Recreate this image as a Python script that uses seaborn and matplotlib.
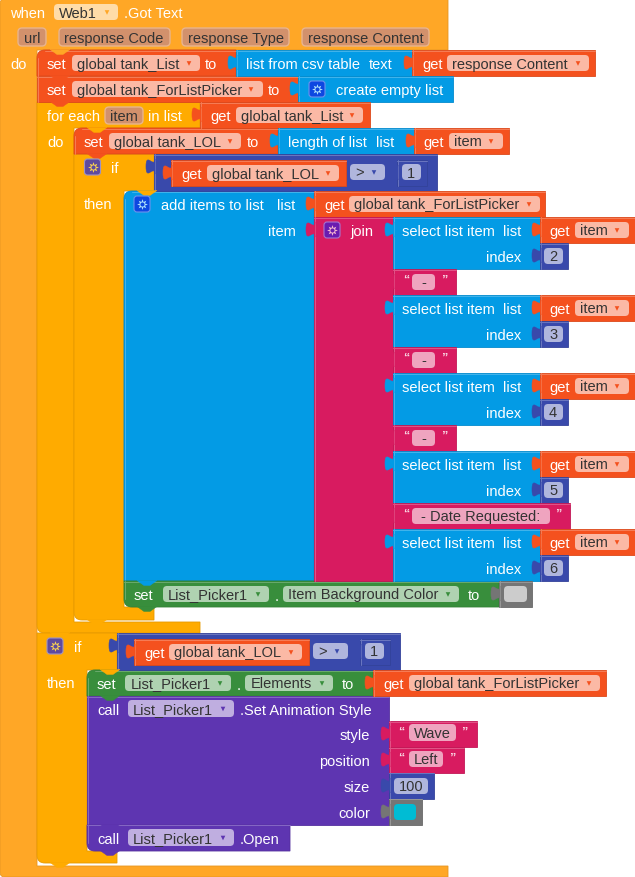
import matplotlib
matplotlib.use("Agg")
import matplotlib.pyplot as plt
import matplotlib.colors as mcolors
from matplotlib.patches import PathPatch, FancyBboxPatch
from matplotlib.path import Path
import seaborn as sns
import pandas as pd

sns.set_theme(style="white")
plt.rcParams["font.family"] = ["Liberation Sans", "DejaVu Sans"]

# ── Palette ──────────────────────────────────────────────────────────────────
EVENT, CTRL, VAR, LIST_C = "#FFA726", "#FFAB00", "#F4511E", "#039BE5"
MATH, TEXT_C, PROP, PROC, GREY = "#3949AB", "#D81B60", "#388E3C", "#5E35B1", "#757575"
KIND = {"var": VAR, "list": LIST_C, "math": MATH, "text": TEXT_C,
        "prop": PROP, "proc": PROC, "grey": GREY}

# ── Blocks (x0, y0, x1, y1, kind, round top-left, round bottom-left) ─────────
STACK_BLOCKS = [
    (37, 51, 236, 77, "var", 1, 0),
    (37, 77, 298, 103, "var", 0, 0),
    (74, 129, 278, 155, "var", 1, 0),
    (124, 192, 314, 582, "list", 1, 0),
    (124, 582, 499, 608, "prop", 0, 1),
    (87, 671, 373, 697, "prop", 1, 0),
    (87, 697, 389, 826, "proc", 0, 0),
    (87, 826, 290, 852, "proc", 0, 1),
]
VALUE_BLOCKS = [
    (236, 51, 412, 77, "list"), (412, 51, 595, 77, "var"),
    (298, 77, 453, 103, "list"), (200, 103, 370, 129, "var"),
    (278, 129, 414, 155, "list"), (414, 129, 509, 155, "var"),
    (154, 155, 437, 192, "math"), (171, 161, 346, 187, "var"), (397, 161, 427, 187, "math"),
    (314, 192, 545, 218, "var"), (314, 218, 393, 582, "text"),
    (393, 218, 540, 270, "list"), (540, 218, 635, 244, "var"), (540, 244, 568, 270, "math"),
    (393, 270, 456, 296, "text"),
    (393, 296, 540, 348, "list"), (540, 296, 635, 322, "var"), (540, 322, 568, 348, "math"),
    (393, 348, 456, 374, "text"),
    (393, 374, 540, 426, "list"), (540, 374, 635, 400, "var"), (540, 400, 568, 426, "math"),
    (393, 426, 456, 452, "text"),
    (393, 452, 540, 504, "list"), (540, 452, 635, 478, "var"), (540, 478, 568, 504, "math"),
    (393, 504, 570, 530, "text"),
    (393, 530, 540, 582, "list"), (540, 530, 635, 556, "var"), (540, 556, 568, 582, "math"),
    (499, 582, 532, 608, "grey"),
    (117, 634, 400, 671, "math"), (134, 640, 309, 666, "var"), (360, 640, 390, 666, "math"),
    (373, 671, 606, 697, "var"),
    (389, 722, 477, 748, "text"), (389, 748, 464, 774, "text"),
    (389, 774, 434, 800, "math"), (389, 800, 422, 826, "grey"),
]

# C shaped blocks: x0, y0, x_head, y_head, x_arm, y_low, x_low, y1
C_BLOCKS = [
    (0, 0, 448, 51, 37, 867, 448, 878, EVENT),
    (37, 103, 200, 129, 74, 623, 200, 634, CTRL),
    (74, 155, 154, 192, 124, 608, 154, 621, CTRL),
    (37, 634, 117, 671, 87, 852, 117, 864, CTRL),
]
# connector chevrons: x, y, colour
NOTCHES = [
    (37, 51, EVENT), (37, 77, VAR), (37, 103, VAR), (74, 129, CTRL), (74, 155, VAR),
    (124, 192, CTRL), (124, 582, LIST_C), (74, 621, CTRL), (37, 634, CTRL),
    (87, 671, CTRL), (87, 697, PROP), (87, 826, PROC), (87, 852, PROC), (124, 608, PROP),
    (37, 864, CTRL),
]

# ── Field pills (x0, y0, x1, y1, colour of parent, label, text x, arrow x) ───
PILLS = [
    (54, 5, 118, 21, EVENT, "Web1", 59, 107),
    (72, 56, 200, 72, VAR, "global tank_List", 77, 189),
    (447, 56, 589, 72, VAR, "response Content", 452, 578),
    (72, 82, 263, 98, VAR, "global tank_ForListPicker", 77, 251),
    (236, 108, 363, 124, VAR, "global tank_List", 241, 352),
    (109, 134, 241, 150, VAR, "global tank_LOL", 114, 230),
    (449, 134, 503, 150, VAR, "item", 454, 491),
    (207, 166, 339, 182, VAR, "global tank_LOL", 212, 328),
    (350, 165, 385, 181, MATH, ">", 355, 374),
    (349, 197, 540, 213, VAR, "global tank_ForListPicker", 354, 529),
    (575, 223, 629, 239, VAR, "item", 580, 617),
    (575, 301, 629, 317, VAR, "item", 580, 617),
    (575, 379, 629, 395, VAR, "item", 580, 617),
    (575, 457, 629, 473, VAR, "item", 580, 617),
    (575, 535, 629, 551, VAR, "item", 580, 617),
    (163, 587, 269, 603, PROP, "List_Picker1", 168, 258),
    (283, 587, 459, 603, PROP, "Item Background Color", 288, 448),
    (169, 645, 302, 661, VAR, "global tank_LOL", 174, 291),
    (313, 644, 348, 660, MATH, ">", 318, 337),
    (125, 676, 231, 692, PROP, "List_Picker1", 131, 220),
    (245, 676, 333, 692, PROP, "Elements", 251, 322),
    (409, 676, 600, 692, VAR, "global tank_ForListPicker", 414, 589),
    (128, 701, 234, 718, PROC, "List_Picker1", 133, 223),
    (128, 830, 234, 847, PROC, "List_Picker1", 133, 223),
    # plain value pills, no dropdown arrow
    (402, 165, 421, 181, MATH, "1", 407, None),
    (544, 249, 563, 265, MATH, "2", 549, None),
    (544, 327, 563, 343, MATH, "3", 549, None),
    (544, 405, 563, 421, MATH, "4", 549, None),
    (544, 483, 563, 499, MATH, "5", 549, None),
    (544, 561, 563, 577, MATH, "6", 549, None),
    (365, 644, 384, 660, MATH, "1", 370, None),
    (394, 779, 428, 795, MATH, "100", 399, None),
    (412, 275, 435, 291, TEXT_C, "-", 421, None),
    (412, 353, 435, 369, TEXT_C, "-", 421, None),
    (412, 431, 435, 447, TEXT_C, "-", 421, None),
    (412, 509, 550, 525, TEXT_C, "- Date Requested:", 421, None),
    (409, 725, 456, 742, TEXT_C, "Wave", 414, None),
    (409, 752, 443, 768, TEXT_C, "Left", 414, None),
]
PARAMS = [
    (18, 29, 46, 47, "url", 24),
    (59, 29, 170, 47, "response Code", 64),
    (182, 29, 289, 47, "response Type", 188),
    (302, 29, 429, 47, "response Content", 308),
]
LOCAL_VAR = (105, 108, 143, 125, "item", 110)
SWATCHES = [(504, 587, 527, 603, "#CCCCCC"), (394, 805, 416, 821, "#00BCD4")]

# ── White labels (x, baseline, text) ─────────────────────────────────────────
LABELS = [
    (10, 18, "when"), (124, 18, ".Got Text"), (10, 69, "do"), (47, 69, "set"), (205, 69, "to"),
    (246, 69, "list from csv table"), (369, 69, "text"), (422, 69, "get"),
    (47, 95, "set"), (268, 95, "to"), (336, 95, "create empty list"),
    (47, 121, "for each"), (148, 121, "in list"), (210, 121, "get"),
    (47, 147, "do"), (84, 147, "set"), (247, 147, "to"), (288, 147, "length of list"),
    (376, 147, "list"), (423, 147, "get"),
    (111, 173, "if"), (181, 179, "get"), (84, 209, "then"),
    (161, 210, "add items to list"), (277, 210, "list"), (324, 210, "get"),
    (350, 236, "join"),
    (134, 600, "set"), (275, 601, "."), (468, 600, "to"),
    (74, 652, "if"), (144, 658, "get"), (47, 688, "then"),
    (97, 689, "set"), (237, 690, "."), (342, 689, "to"), (383, 689, "get"),
    (97, 715, "call"), (240, 715, ".Set Animation Style"),
    (97, 844, "call"), (240, 844, ".Open"),
]
LABELS_RIGHT = [
    (296, 236, "item"), (370, 740, "style"), (370, 766, "position"),
    (370, 792, "size"), (370, 818, "color"),
]
SELECT_ROWS = [218, 296, 374, 452, 530]
QUOTES = [
    (403, 441, 270), (403, 441, 348), (403, 441, 426), (403, 555, 504),
    (398, 461, 722), (398, 449, 748),
]
# mutator icons: x centre, y centre, tile colour, gear colour
GEARS = [
    (92.5, 168, "#5E4A9E", "#FFD54F"), (142, 205, "#0D47E1", "#B3E5FC"),
    (332, 231, "#6A1BB0", "#F8BBD0"), (317, 90, "#0D47E1", "#B3E5FC"),
    (55, 647, "#5E4A9E", "#FFD54F"),
]


def mix(color, other, t):
    a, b = mcolors.to_rgb(color), mcolors.to_rgb(other)
    return tuple(a[i] * (1 - t) + b[i] * t for i in range(3))


def rounded_poly(ax, pts, color, radii, z=1):
    """closed polygon, radii[i] rounds corner i with a quadratic curve"""
    verts, codes = [], []
    n = len(pts)
    for i, p in enumerate(pts):
        r = radii[i]
        prev, nxt = pts[i - 1], pts[(i + 1) % n]
        if r:
            def toward(q):
                dx, dy = q[0] - p[0], q[1] - p[1]
                d = (dx ** 2 + dy ** 2) ** 0.5
                return (p[0] + dx / d * r, p[1] + dy / d * r)
            verts += [toward(prev), p, toward(nxt)]
            codes += [Path.LINETO, Path.CURVE3, Path.CURVE3]
        else:
            verts.append(p)
            codes.append(Path.LINETO)
    codes[0] = Path.MOVETO
    verts.append(verts[0])
    codes.append(Path.CLOSEPOLY)
    ax.add_patch(PathPatch(Path(verts, codes), fc=color, ec=mix(color, "black", 0.1),
                           lw=0.6, zorder=z))


def rect_block(ax, x0, y0, x1, y1, color, tl=0, bl=0, z=2):
    rounded_poly(ax, [(x0, y0), (x1, y0), (x1, y1), (x0, y1)], color,
                 [8 if tl else 0, 0, 0, 8 if bl else 0], z=z)
    light = mix(color, "white", 0.25)
    ax.plot([x0 + (8 if tl else 0), x1], [y0 + 0.5, y0 + 0.5], color=light, lw=0.7, zorder=z)
    ax.plot([x0 + 0.5, x0 + 0.5], [y0 + (8 if tl else 0), y1 - (8 if bl else 0)],
            color=light, lw=0.7, zorder=z)


def tab(ax, x, y, color, z=3):
    # Blockly output tab, starts 5 px under the block top
    y0 = y + 5
    verts = [(x + 1, y0), (x, y0 + 10), (x - 8, y0 - 8), (x - 8, y0 + 7.5),
             (x - 8, y0 + 23), (x, y0 + 5), (x + 1, y0 + 15), (x + 1, y0)]
    codes = [Path.MOVETO] + [Path.CURVE4] * 6 + [Path.CLOSEPOLY]
    ax.add_patch(PathPatch(Path(verts, codes), fc=color, ec=color, lw=0.4, zorder=z))


def pill(ax, x0, y0, x1, y1, fc, ec="none", lw=0.0, z=4):
    ax.add_patch(FancyBboxPatch((x0 + 3, y0 + 3), x1 - x0 - 6, y1 - y0 - 6,
                                boxstyle="round,pad=3,rounding_size=4", fc=fc, ec=ec, lw=lw, zorder=z))


FS = 10.56
fig = plt.figure(figsize=(6.35, 8.78), dpi=100)
ax = fig.add_axes([0, 0, 1, 1])
ax.set_xlim(0, 635)
ax.set_ylim(878, 0)
ax.axis("off")
sns.despine(ax=ax, left=True, bottom=True)

for x0, y0, xh, yh, xa, yl, xw, y1, col in C_BLOCKS:
    pts = [(x0, y0), (xh, y0), (xh, yh), (xa, yh), (xa, yl), (xw, yl), (xw, y1), (x0, y1)]
    r0 = 5 if x0 == 0 else 0
    rb = 5 if x0 == 0 else 8
    rounded_poly(ax, pts, col, [r0, 0, 0, 0, 0, 0, 0, rb], z=1)

for x0, y0, x1, y1, kind, tl, bl in STACK_BLOCKS:
    rect_block(ax, x0, y0, x1, y1, KIND[kind], tl, bl)
for x0, y0, x1, y1, kind in VALUE_BLOCKS:
    rect_block(ax, x0, y0, x1, y1, KIND[kind])
for x0, y0, x1, y1, kind in VALUE_BLOCKS:
    tab(ax, x0, y0, KIND[kind])

for x, y, col in NOTCHES:
    ax.add_patch(plt.Polygon([(x + 13, y - 0.5), (x + 20, y + 4.5), (x + 26, y + 4.5), (x + 33, y - 0.5)],
                             fc=col, ec=col, lw=0.3, zorder=3.5))

# ── Pills and dropdown arrows ────────────────────────────────────────────────
arrow_rows = []
for x0, y0, x1, y1, col, label, tx, ax_x in PILLS:
    pill(ax, x0, y0, x1, y1, mix(col, "white", 0.6))
    ax.text(tx, y1 - 3.5, label, color="#333333", fontsize=FS, zorder=6)
    if ax_x is not None:
        arrow_rows.append({"x": ax_x, "y": (y0 + y1) / 2 + 0.5, "col": col})
arrows = pd.DataFrame(arrow_rows)
arrow_cols = list(dict.fromkeys(arrows["col"]))
sns.scatterplot(data=arrows, x="x", y="y", hue="col", palette=arrow_cols, hue_order=arrow_cols,
                marker="v", s=11, linewidth=0, legend=False, ax=ax, zorder=7)

for x0, y0, x1, y1, label, tx in PARAMS + [LOCAL_VAR]:
    pill(ax, x0, y0, x1, y1, "#D2916C", ec="#E8B48E", lw=1.0)
    ax.text(tx, y1 - 4, label, color="#333333", fontsize=FS, zorder=6)

for x0, y0, x1, y1, col in SWATCHES:
    pill(ax, x0, y0, x1, y1, col)

for x, y, s in LABELS:
    ax.text(x, y, s, color="white", fontsize=FS, zorder=6)
for x, y, s in LABELS_RIGHT:
    ax.text(x, y, s, color="white", fontsize=FS, ha="right", zorder=6)
for y in SELECT_ROWS:
    ax.text(402, y + 18, "select list item", color="white", fontsize=FS, zorder=6)
    ax.text(503, y + 18, "list", color="white", fontsize=FS, zorder=6)
    ax.text(486, y + 44, "index", color="white", fontsize=FS, zorder=6)
    ax.text(549.5, y + 18, "get", color="white", fontsize=FS, zorder=6)

for xl, xr, y in QUOTES:
    ax.text(xl, y + 14, "\u201c", color="#F8D7E3", fontsize=9, fontweight="bold", zorder=6)
    ax.text(xr, y + 14, "\u201d", color="#F8D7E3", fontsize=9, fontweight="bold", zorder=6)

# ── Mutator gears ────────────────────────────────────────────────────────────
for x, y, tile, gear in GEARS:
    ax.add_patch(FancyBboxPatch((x - 5.5, y - 5.5), 11, 11, boxstyle="round,pad=2.5,rounding_size=3",
                                fc=tile, ec=mix(tile, "white", 0.4), lw=0.8, zorder=5))
    sns.scatterplot(x=[x], y=[y], marker=(8, 1, 0), s=60, color=gear, linewidth=0, ax=ax,
                    legend=False, zorder=6)
    sns.scatterplot(x=[x], y=[y], marker="o", s=9, color=tile, linewidth=0, ax=ax,
                    legend=False, zorder=7)
ax.set_xlabel("")
ax.set_ylabel("")
ax.set_xlim(0, 635)
ax.set_ylim(878, 0)

fig.savefig("out.png", dpi=100, facecolor="white")
